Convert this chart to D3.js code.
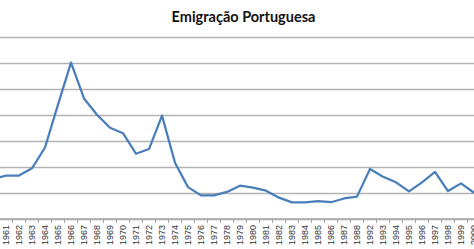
<!DOCTYPE html>
<html>
<head>
<meta charset="utf-8">
<script src="https://cdn.jsdelivr.net/npm/d3@7"></script>
<style>
  html, body { margin: 0; padding: 0; background: #fff; overflow: hidden; }
  svg { display: block; }
</style>
</head>
<body>
<svg id="chart" width="474" height="249"></svg>
<script>
// Data (the 1960 point lies just outside the visible crop)
const title = "Emigração Portuguesa";
const years = ["1960","1961","1962","1963","1964","1965","1966","1967","1968","1969","1970",
  "1971","1972","1973","1974","1975","1976","1977","1978","1979","1980","1981","1982",
  "1983","1984","1985","1986","1987","1988","1992","1993","1994","1995","1996","1997",
  "1998","1999","2000"];
const emigrants = [31000,33300,33400,39000,55000,88000,120300,92700,80200,70200,66000,
  50200,53800,79500,43300,24500,18200,18200,20800,25600,24100,21800,16400,
  12800,12800,13700,12900,15800,17200,38500,32500,28200,21300,28200,36200,
  21500,27400,20200];
const yTicks = [0,20000,40000,60000,80000,100000,120000,140000];
// Year labels visible in the cropped picture
const visibleYears = years.slice(1);

const svg = d3.select("#chart");
const plot = { left: -13.5, right: 480.5, top: 37, bottom: 219 };

const x = d3.scaleBand().domain(years).range([plot.left, plot.right]).padding(0);
const y = d3.scaleLinear().domain([0, 140000]).range([plot.bottom, plot.top]);
const cx = d => x(d) + x.bandwidth() / 2;

// Title
svg.append("text")
  .attr("x", 243.5).attr("y", 22)
  .attr("text-anchor", "middle")
  .attr("font-family", "Lato, 'Open Sans', sans-serif")
  .attr("font-weight", "bold")
  .attr("font-size", 14.5)
  .attr("fill", "#111")
  .text(title);

// Horizontal gridlines via axis (value labels lie outside the cropped picture)
const yAxis = svg.append("g")
  .attr("transform", `translate(${plot.left},0)`)
  .call(d3.axisLeft(y).tickValues(yTicks).tickSize(-(plot.right - plot.left)).tickFormat(""));
yAxis.select(".domain").remove();
yAxis.selectAll(".tick line").attr("stroke", "#b3b3b3").attr("stroke-width", 1.3);

// X axis line
svg.append("line")
  .attr("x1", plot.left).attr("x2", plot.right)
  .attr("y1", y(0)).attr("y2", y(0))
  .attr("stroke", "#a6a6a6").attr("stroke-width", 1.3);

// Tick marks between categories
svg.append("g").selectAll("line")
  .data(years)
  .join("line")
  .attr("x1", d => x(d)).attr("x2", d => x(d))
  .attr("y1", y(0)).attr("y2", y(0) + 4)
  .attr("stroke", "#a6a6a6").attr("stroke-width", 1);

// X labels rotated
svg.append("g").selectAll("g")
  .data(visibleYears)
  .join("g")
  .attr("transform", d => `translate(${cx(d)},${y(0) + 4}) rotate(-90)`)
  .append("text")
  .attr("x", -2)
  .attr("dy", "0.35em")
  .attr("text-anchor", "end")
  .attr("font-family", "Liberation Sans, Arial, sans-serif")
  .attr("font-size", 9)
  .attr("fill", "#333")
  .text(d => d);

// Line
const line = d3.line()
  .x((d, i) => cx(years[i]))
  .y(d => y(d));
svg.append("path")
  .datum(emigrants)
  .attr("d", line)
  .attr("fill", "none")
  .attr("stroke", "#4a7ebb")
  .attr("stroke-width", 2.25)
  .attr("stroke-linejoin", "round");
</script>
</body>
</html>
